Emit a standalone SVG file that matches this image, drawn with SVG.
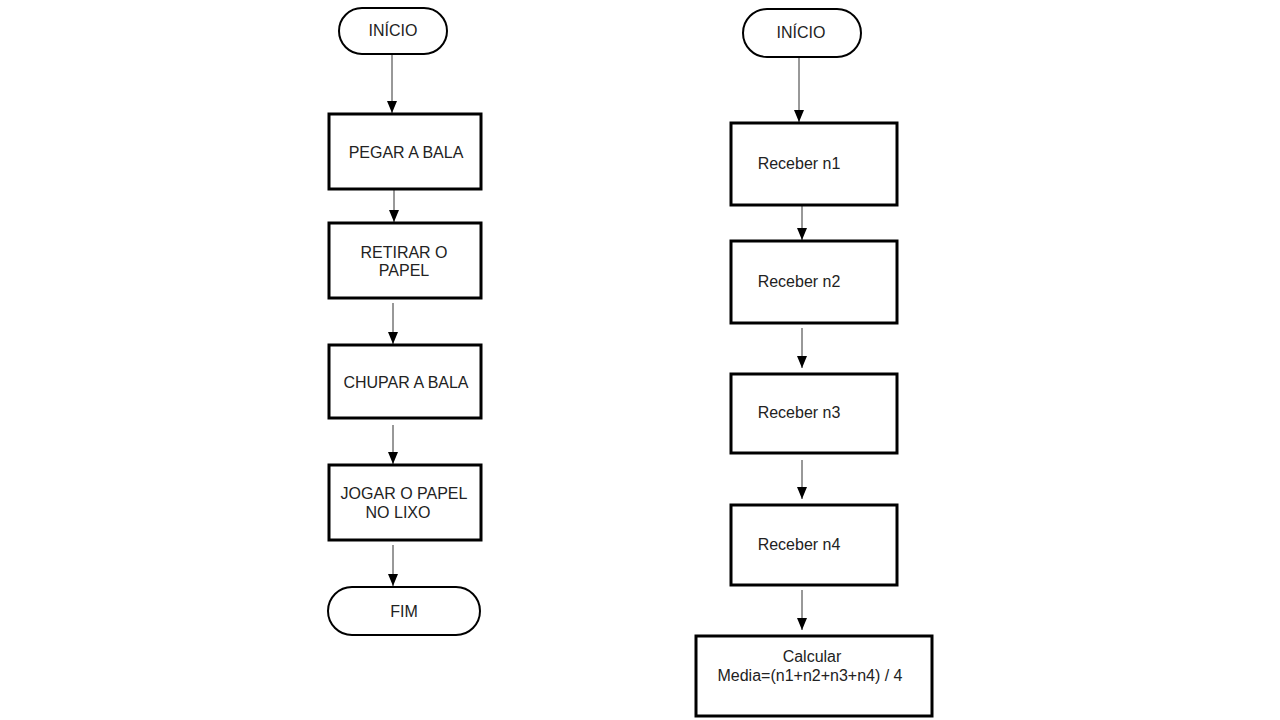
<svg xmlns="http://www.w3.org/2000/svg" width="1280" height="720" viewBox="0 0 1280 720">
<style>
.t{fill:#fff;stroke:#000;stroke-width:2}
.b{fill:#fff;stroke:#000;stroke-width:3}
text{font-family:"Liberation Sans",Arial,sans-serif;font-size:16px;fill:#222;text-anchor:middle}
.c line{stroke:#333;stroke-width:1}
</style>
<defs><marker id="a" markerWidth="12" markerHeight="10" refX="12" refY="5" orient="auto" markerUnits="userSpaceOnUse" viewBox="0 0 12 10"><path d="M0,0L12,5L0,10z" fill="#000"/></marker></defs>
<rect width="1280" height="720" fill="#fff"/>
<g class="c">
<line x1="392" y1="54" x2="392" y2="113" marker-end="url(#a)"/>
<line x1="394" y1="189" x2="394" y2="222" marker-end="url(#a)"/>
<line x1="393" y1="303" x2="393" y2="344" marker-end="url(#a)"/>
<line x1="393" y1="425" x2="393" y2="464" marker-end="url(#a)"/>
<line x1="393" y1="545" x2="393" y2="586" marker-end="url(#a)"/>
<line x1="799" y1="57" x2="799" y2="122" marker-end="url(#a)"/>
<line x1="802" y1="205" x2="802" y2="240" marker-end="url(#a)"/>
<line x1="802" y1="328" x2="802" y2="368" marker-end="url(#a)"/>
<line x1="802" y1="460" x2="802" y2="499" marker-end="url(#a)"/>
<line x1="802" y1="590" x2="802" y2="630" marker-end="url(#a)"/>
</g>
<g id="n1"><rect class="t" x="339" y="8" width="108" height="46" rx="23"/><text x="393" y="36">INÍCIO</text></g>
<g id="n2"><rect class="b" x="329" y="114" width="152" height="75"/><text x="406" y="158">PEGAR A BALA</text></g>
<g id="n3"><rect class="b" x="329" y="223" width="152" height="75"/><text x="404" y="258">RETIRAR O</text><text x="404" y="276">PAPEL</text></g>
<g id="n4"><rect class="b" x="329" y="345" width="152" height="73"/><text x="406" y="388">CHUPAR A BALA</text></g>
<g id="n5"><rect class="b" x="329" y="465" width="152" height="75"/><text x="404" y="499">JOGAR O PAPEL</text><text x="398" y="518">NO LIXO</text></g>
<g id="n6"><rect class="t" x="328" y="587" width="152" height="48" rx="24"/><text x="404" y="617">FIM</text></g>
<g id="m1"><rect class="t" x="743" y="9" width="118" height="48" rx="24"/><text x="801" y="38">INÍCIO</text></g>
<g id="m2"><rect class="b" x="731" y="123" width="166" height="82"/><text x="799" y="169">Receber n1</text></g>
<g id="m3"><rect class="b" x="731" y="241" width="166" height="82"/><text x="799" y="287">Receber n2</text></g>
<g id="m4"><rect class="b" x="731" y="374" width="166" height="79"/><text x="799" y="418">Receber n3</text></g>
<g id="m5"><rect class="b" x="731" y="505" width="166" height="80"/><text x="799" y="550">Receber n4</text></g>
<g id="m6"><rect class="b" x="696" y="636" width="236" height="80"/><text x="812" y="662">Calcular</text><text x="810" y="681">Media=(n1+n2+n3+n4) / 4</text></g>
</svg>
